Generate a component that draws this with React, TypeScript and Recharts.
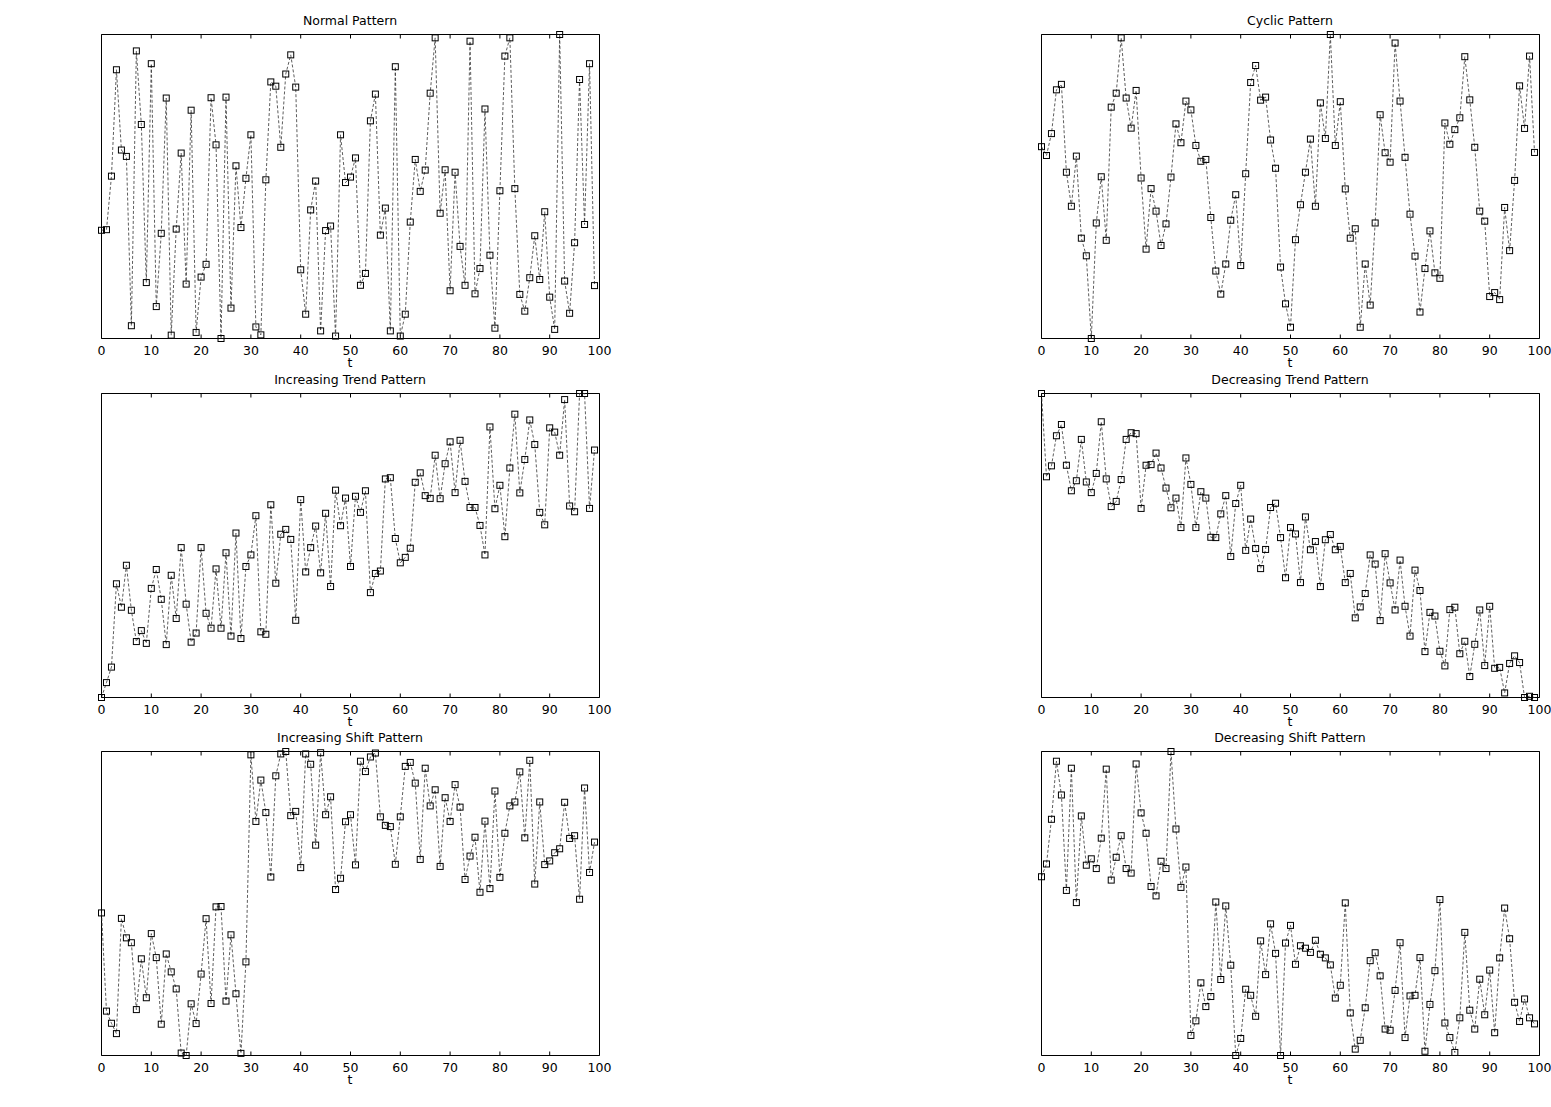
import { LineChart, Line, XAxis, YAxis, ReferenceArea } from "recharts";

// values, scaled 0..100 within each panel (bottom..top of the box)
const tickValues = [0, 10, 20, 30, 40, 50, 60, 70, 80, 90, 100];

const normalPattern = [
  35.6, 35.8, 53.4, 88.4, 62.0, 59.9, 4.2, 94.6, 70.4, 18.4,
  90.4, 10.5, 34.6, 79.1, 1.1, 36.0, 61.0, 17.9, 75.1, 2.0,
  20.2, 24.4, 79.2, 63.7, 0, 79.4, 10.0, 56.8, 36.5, 52.7,
  67.0, 3.8, 1.2, 52.2, 84.4, 83.0, 62.9, 87.0, 93.3, 82.7,
  22.6, 8.0, 42.3, 51.8, 2.5, 35.5, 37.0, 0.8, 67.0, 51.3,
  53.1, 59.4, 17.5, 21.4, 71.6, 80.4, 34.0, 42.9, 2.5, 89.4,
  0.8, 8.0, 38.3, 58.9, 48.4, 55.4, 80.7, 98.9, 41.2, 55.5,
  15.7, 54.7, 30.3, 17.5, 97.8, 14.7, 23.0, 75.5, 27.4, 3.4,
  48.6, 92.9, 98.9, 49.3, 14.5, 9.0, 20.0, 33.8, 19.4, 41.7,
  13.6, 3.0, 100, 18.9, 8.3, 31.5, 85.2, 37.5, 90.4, 17.4,
];

const cyclicPattern = [
  63.1, 60.2, 67.4, 81.8, 83.6, 54.7, 43.5, 60.0, 33.0, 27.2,
  0, 38.0, 53.2, 32.3, 76.1, 80.7, 98.9, 79.1, 69.2, 81.6,
  52.8, 29.4, 49.3, 41.9, 30.6, 37.7, 53.1, 70.6, 64.4, 78.1,
  75.2, 63.5, 58.3, 58.9, 39.8, 22.2, 14.6, 24.5, 38.9, 47.3,
  24.0, 54.2, 84.2, 89.8, 78.4, 79.4, 65.3, 56.0, 23.5, 11.4,
  3.7, 32.5, 44.0, 54.7, 65.6, 43.5, 77.5, 65.8, 100, 63.5,
  77.9, 49.2, 33.0, 36.1, 3.7, 24.5, 11.0, 38.0, 73.6, 61.1,
  58.0, 97.2, 78.1, 59.6, 40.9, 27.1, 8.7, 23.0, 35.4, 21.6,
  19.8, 70.9, 63.9, 68.7, 72.6, 92.7, 78.5, 62.9, 41.9, 38.6,
  13.8, 15.1, 12.8, 43.1, 28.9, 52.0, 83.1, 69.1, 92.9, 61.2,
];

const increasingTrend = [
  0, 4.9, 10.0, 37.4, 29.7, 43.5, 28.7, 18.4, 22.0, 17.8,
  35.9, 42.1, 32.3, 17.4, 40.2, 26.0, 49.3, 30.7, 18.2, 21.2,
  49.3, 27.7, 22.8, 42.3, 22.8, 47.6, 20.2, 54.1, 19.4, 43.1,
  46.9, 59.8, 21.6, 20.8, 63.4, 37.6, 53.7, 55.3, 52.0, 25.4,
  65.1, 41.3, 49.3, 56.4, 41.0, 60.6, 36.5, 68.2, 56.5, 65.6,
  43.1, 66.2, 60.9, 68.0, 34.5, 40.8, 41.6, 71.9, 72.3, 52.3,
  44.3, 46.1, 49.1, 70.8, 73.9, 66.4, 65.5, 79.7, 65.4, 76.9,
  84.1, 67.4, 84.6, 71.1, 62.5, 62.5, 56.6, 46.9, 89.0, 62.1,
  69.8, 52.9, 75.5, 93.2, 67.3, 78.3, 91.3, 83.2, 60.9, 56.8,
  88.7, 87.3, 79.7, 98.0, 63.0, 61.1, 100, 100, 62.2, 81.4,
];

const decreasingTrend = [
  100, 72.6, 76.2, 86.1, 89.8, 76.4, 68.0, 71.3, 84.9, 70.9,
  67.4, 73.7, 90.7, 71.9, 62.8, 64.5, 71.7, 84.9, 87.1, 86.8,
  62.2, 76.4, 76.6, 80.4, 75.5, 68.9, 62.4, 65.6, 55.9, 78.8,
  70.1, 55.9, 67.7, 65.6, 52.7, 52.6, 60.4, 66.4, 46.4, 63.8,
  69.8, 48.4, 58.7, 49.0, 42.4, 48.7, 62.5, 63.9, 52.6, 39.4,
  55.9, 53.8, 37.8, 59.4, 48.6, 51.3, 36.5, 51.9, 53.6, 48.6,
  49.7, 37.8, 40.8, 26.2, 29.8, 34.2, 46.9, 43.9, 25.3, 47.3,
  37.7, 28.8, 45.2, 30.0, 20.2, 41.9, 35.2, 15.1, 28.0, 26.8,
  15.2, 10.4, 28.9, 29.7, 14.4, 18.5, 6.9, 17.5, 28.8, 10.5,
  30.0, 9.6, 9.9, 1.5, 11.2, 13.7, 11.5, 0, 0.4, 0,
];

const increasingShift = [
  46.9, 14.6, 10.6, 7.2, 45.1, 38.7, 37.1, 15.1, 31.8, 19.0,
  40.1, 32.2, 10.3, 33.4, 27.5, 21.9, 0.8, 0, 17.0, 10.5,
  26.8, 45.0, 17.1, 48.9, 49.0, 17.9, 39.7, 20.3, 0.7, 30.8,
  98.9, 77.0, 90.6, 79.9, 58.7, 92.0, 99.2, 100, 78.9, 80.3,
  61.8, 99.2, 95.8, 69.2, 99.6, 79.2, 85.1, 54.6, 58.3, 76.9,
  79.2, 62.7, 96.8, 93.4, 98.2, 99.5, 78.5, 75.7, 75.3, 62.9,
  78.5, 95.1, 96.4, 89.6, 64.5, 94.5, 82.1, 87.4, 62.2, 84.8,
  77.0, 89.1, 81.7, 57.9, 65.6, 71.8, 53.7, 77.1, 54.9, 87.0,
  58.6, 73.1, 82.1, 83.4, 93.3, 71.6, 97.1, 56.4, 83.4, 62.8,
  64.0, 66.7, 68.0, 83.3, 71.4, 72.3, 51.4, 88.0, 60.2, 70.2,
];

const decreasingShift = [
  58.8, 63.0, 77.7, 96.8, 85.7, 54.3, 94.5, 50.3, 78.8, 62.6,
  64.7, 61.5, 71.5, 94.2, 57.7, 65.2, 72.3, 61.5, 60.0, 95.9,
  79.8, 73.1, 55.6, 52.5, 63.9, 61.5, 100, 74.5, 55.3, 62.0,
  6.6, 11.4, 23.9, 16.1, 19.4, 50.5, 25.0, 49.2, 29.7, 0,
  5.6, 21.8, 19.8, 12.9, 37.7, 26.6, 43.3, 33.6, 0, 37.0,
  42.8, 30.0, 36.1, 35.3, 33.9, 37.9, 33.3, 32.1, 29.8, 18.9,
  23.1, 50.2, 14.0, 2.1, 5.0, 15.7, 31.2, 33.8, 26.2, 8.7,
  8.3, 21.4, 37.1, 5.9, 19.6, 19.8, 32.2, 1.4, 16.8, 27.9,
  51.3, 10.7, 5.9, 1.0, 12.4, 40.5, 14.9, 8.7, 25.1, 13.4,
  28.1, 7.5, 32.1, 48.5, 38.4, 17.5, 11.2, 18.6, 12.4, 10.4,
];

const PLOT_W = 498;
const PLOT_H = 304;
const ML = 20.5;
const MR = 19.5;
const MT = 10.5;
const AXIS_H = 39.5;
const FONT = "'DejaVu Sans', sans-serif";

const panels = [
  { title: "Normal Pattern", values: normalPattern, left: 101, top: 34 },
  { title: "Cyclic Pattern", values: cyclicPattern, left: 1041, top: 34 },
  { title: "Increasing Trend Pattern", values: increasingTrend, left: 101, top: 393 },
  { title: "Decreasing Trend Pattern", values: decreasingTrend, left: 1041, top: 393 },
  { title: "Increasing Shift Pattern", values: increasingShift, left: 101, top: 751 },
  { title: "Decreasing Shift Pattern", values: decreasingShift, left: 1041, top: 751 },
];

function SquareDot(props: any) {
  const { cx, cy, index } = props;
  if (cx == null || cy == null) return <g key={`sq-${index}`} />;
  return (
    <rect
      key={`sq-${index}`}
      x={cx - 3}
      y={cy - 3}
      width={6}
      height={6}
      fill="none"
      stroke="#000"
      strokeWidth={1}
    />
  );
}

function AxisTick(props: any) {
  const { x, y, payload } = props;
  return (
    <g>
      <line x1={x} y1={y} x2={x} y2={y - 4} stroke="#000" strokeWidth={1} />
      <line x1={x} y1={y - PLOT_H} x2={x} y2={y - PLOT_H + 4} stroke="#000" strokeWidth={1} />
      <text x={x} y={y + 16} textAnchor="middle" fontSize={12.5} fill="#000" fontFamily={FONT}>
        {payload.value}
      </text>
    </g>
  );
}

function Panel({ title, values, left, top }: { title: string; values: number[]; left: number; top: number }) {
  const rows = values.map((v, t) => ({ t, v }));
  return (
    <>
      <div
        style={{
          position: "absolute",
          left,
          top: top - 20.3,
          width: PLOT_W,
          textAlign: "center",
          fontFamily: FONT,
          fontSize: 12.5,
          lineHeight: "14px",
          color: "#000",
        }}
      >
        {title}
      </div>
      <div style={{ position: "absolute", left: left - ML, top: top - MT }}>
        <LineChart
          width={PLOT_W + ML + MR}
          height={PLOT_H + MT + AXIS_H}
          data={rows}
          margin={{ top: MT, right: MR, left: ML, bottom: 0 }}
        >
          <XAxis
            dataKey="t"
            type="number"
            domain={[0, 100]}
            ticks={tickValues}
            interval={0}
            height={AXIS_H}
            tickSize={0}
            tickMargin={0}
            tickLine={false}
            axisLine={false}
            tick={AxisTick}
          />
          <YAxis hide width={0} type="number" domain={[0, 100]} />
          <ReferenceArea x1={0} x2={100} y1={0} y2={100} fill="none" stroke="#000" strokeWidth={1} />
          <Line
            type="linear"
            dataKey="v"
            stroke="#333"
            strokeWidth={0.8}
            strokeDasharray="3 2"
            dot={SquareDot}
            activeDot={false}
            isAnimationActive={false}
          />
        </LineChart>
      </div>
      <div
        style={{
          position: "absolute",
          left,
          top: top + PLOT_H + 19.8,
          width: PLOT_W,
          textAlign: "center",
          fontFamily: FONT,
          fontSize: 12.5,
          lineHeight: "10px",
          color: "#000",
        }}
      >
        t
      </div>
    </>
  );
}

export default function App() {
  return (
    <div style={{ position: "absolute", left: 0, top: 0, width: 1551, height: 1107, background: "#fff" }}>
      {panels.map((p) => (
        <Panel key={p.title} {...p} />
      ))}
    </div>
  );
}
